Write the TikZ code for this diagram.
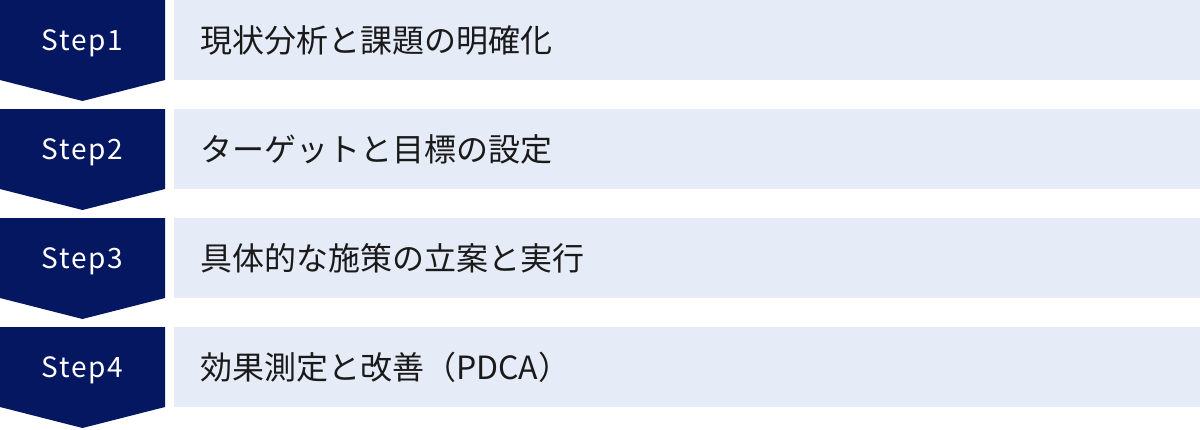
\documentclass[tikz,border=0pt]{standalone}
\usepackage{fontspec}
\setmainfont{Noto Sans CJK JP}
\newfontfamily\stepfont{Noto Sans CJK JP}[LetterSpace=6]
\newfontfamily\jpfont{Noto Sans CJK JP}
\definecolor{navy}{HTML}{061762}
\definecolor{barbg}{HTML}{E6EBF8}
\definecolor{txt}{HTML}{1A1A1A}
\tikzset{
  x=1pt, y=1pt,
  chevron/.style={fill=navy, draw=none},
  steplbl/.style={text=white, font=\stepfont\fontsize{28}{30}\selectfont, inner sep=0pt},
  bar/.style={fill=barbg, draw=none, anchor=north west, minimum width=1026pt, minimum height=80pt,
    text width=974pt, inner xsep=26pt, inner ysep=0pt, align=left, text=txt,
    font=\jpfont\fontsize{32}{36}\selectfont},
}
\begin{document}
\begin{tikzpicture}
\useasboundingbox (0,0) rectangle (1200,-429);
\foreach \i/\t [count=\n] in {0/{現状分析と課題の明確化},109/{ターゲットと目標の設定},218/{具体的な施策の立案と実行},327/{効果測定と改善（PDCA）}}{
  \fill[chevron] (0,-\i) -- (165,-\i) -- (165,-\i-80) -- (82.5,-\i-101) -- (0,-\i-80) -- cycle;
  \node[steplbl] (s\n) at (82.5,-\i-43) {Step\n};
  \node[bar] (b\n) at (174,-\i) {\t};
}
\end{tikzpicture}
\end{document}
